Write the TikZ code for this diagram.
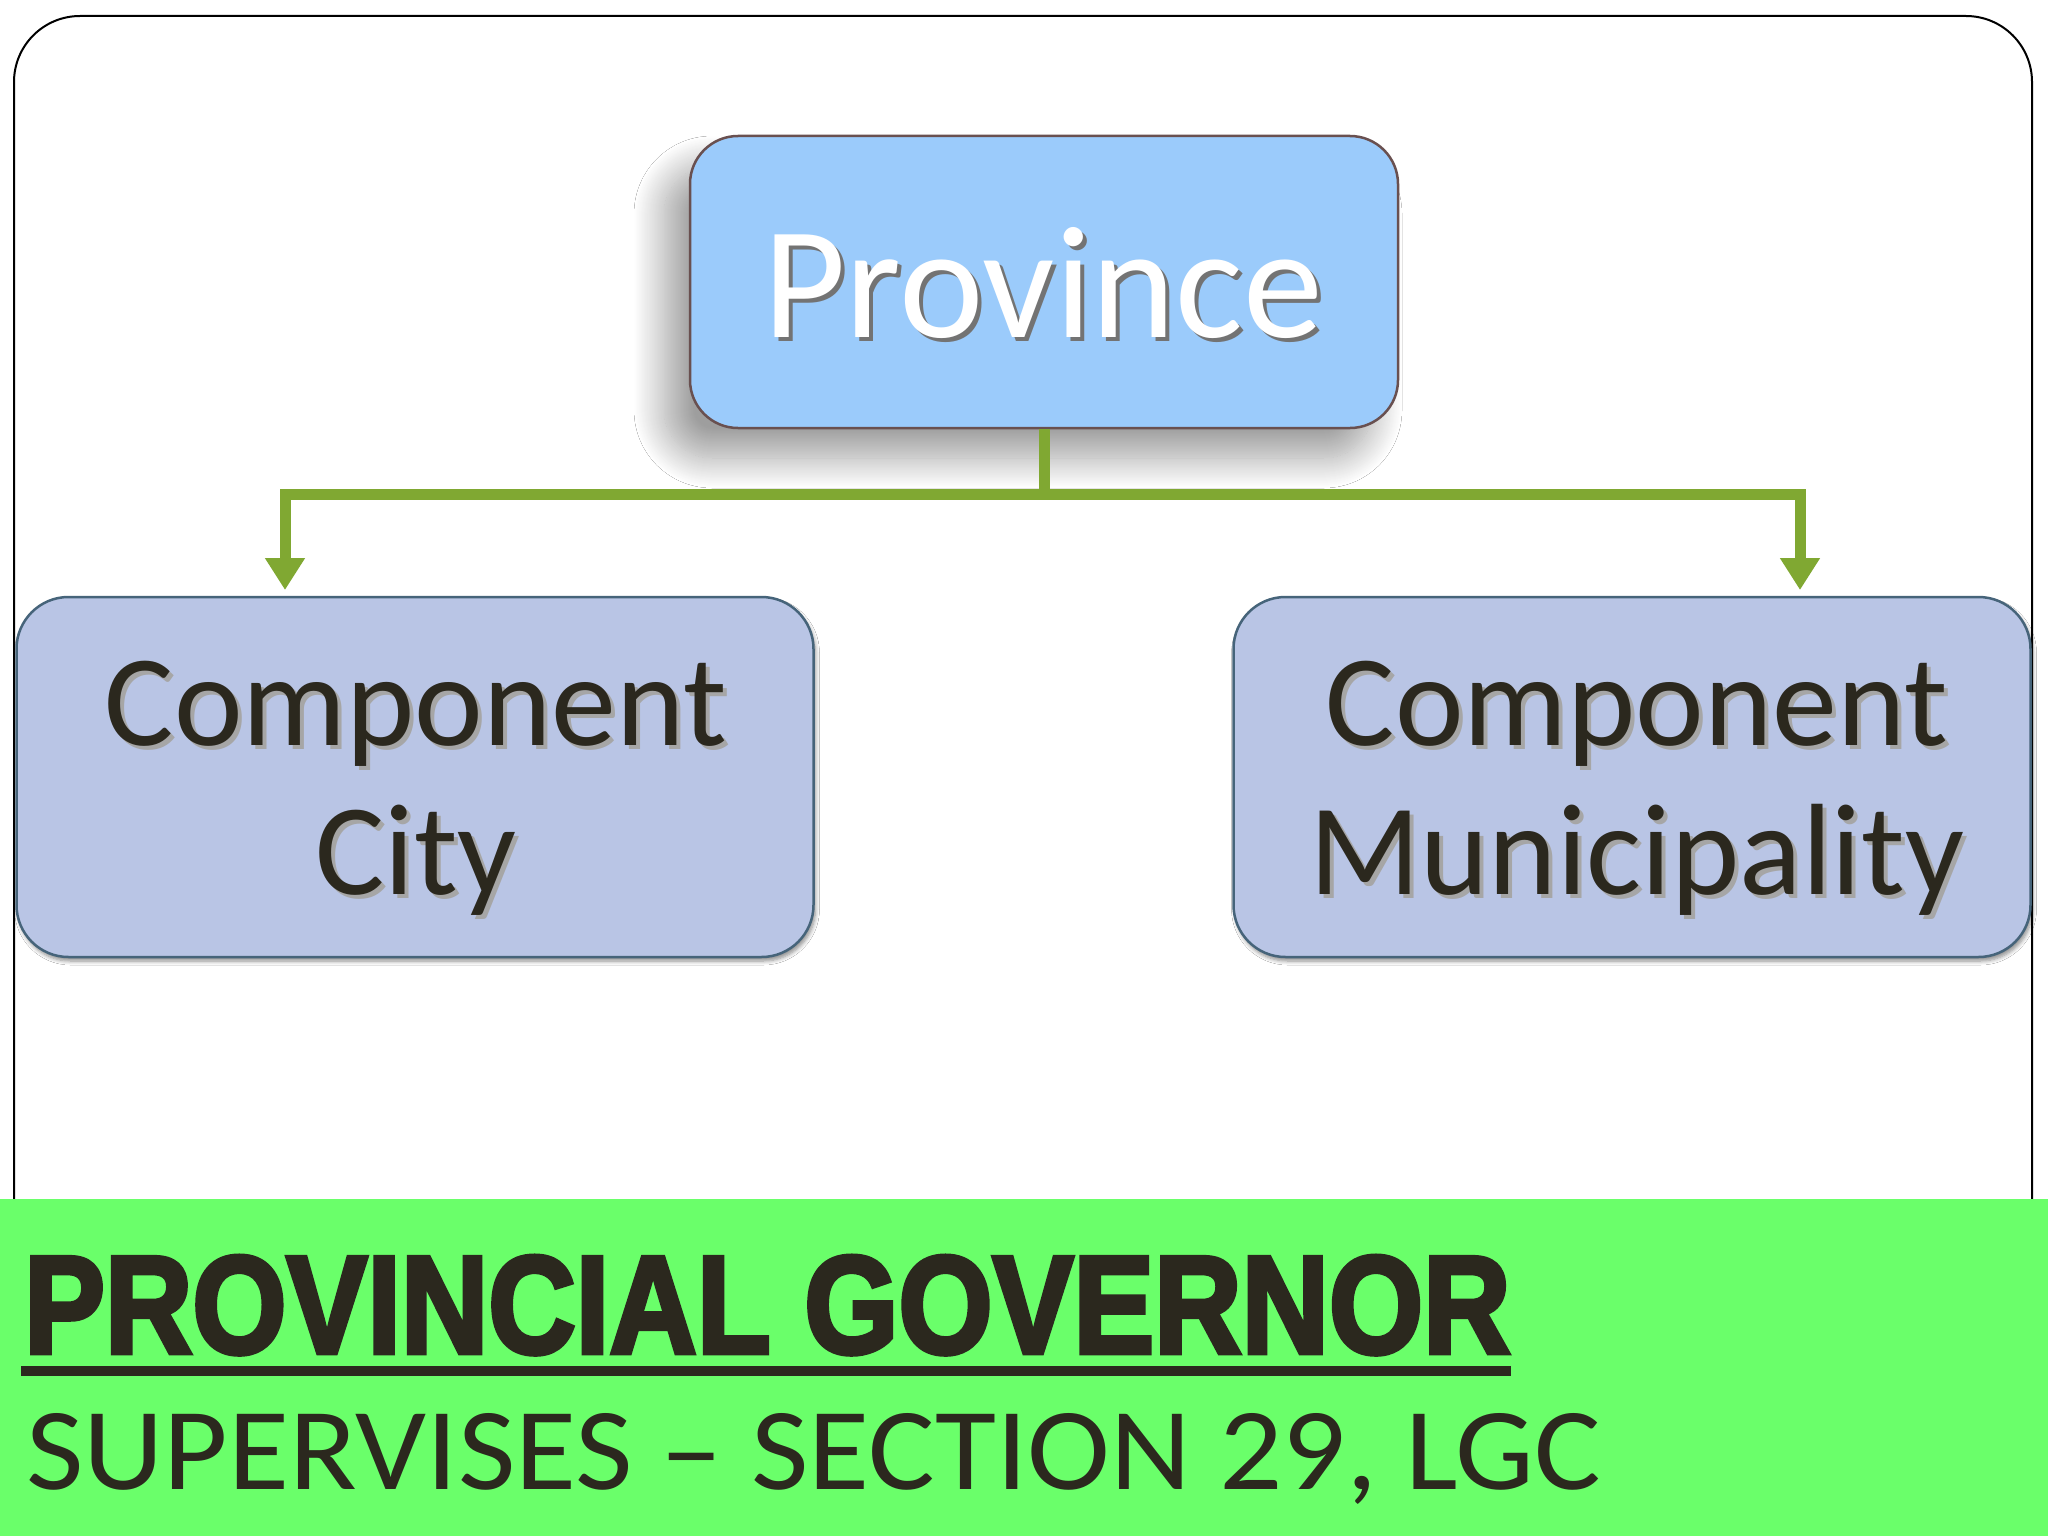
\documentclass[tikz,border=0pt]{standalone}
\usepackage{fontspec}
\setmainfont{Carlito}
\newfontfamily\titlefont[FakeBold=3.5]{Liberation Sans}
\usepackage{graphicx}
\usetikzlibrary{arrows.meta,shadows.blur}
\definecolor{txtdark}{RGB}{43,40,30}
\definecolor{provfill}{RGB}{155,203,251}
\definecolor{provedge}{RGB}{105,80,80}
\definecolor{compfill}{RGB}{185,197,229}
\definecolor{compedge}{RGB}{70,100,122}
\definecolor{conncol}{RGB}{128,168,50}
\definecolor{bandcol}{RGB}{106,255,106}
\newcommand\shtext[3]{\rlap{\kern4pt\raisebox{-4pt}{\textcolor{#1}{#2}}}\textcolor{#3}{#2}}
\tikzset{
  provbox/.style={draw=provedge, line width=2.5pt, fill=provfill, rounded corners=48pt,
    minimum width=708pt, minimum height=292pt, inner sep=0pt,
    blur shadow={shadow xshift=-26pt, shadow yshift=-30pt, shadow blur radius=30pt,
      shadow blur steps=30, shadow opacity=38}},
  compbox/.style={draw=compedge, line width=2.5pt, fill=compfill, rounded corners=52pt,
    minimum width=797pt, minimum height=360pt, inner sep=0pt,
    blur shadow={shadow xshift=2pt, shadow yshift=-4pt, shadow blur radius=4pt,
      shadow blur steps=6, shadow opacity=45}},
  comptext/.style={inner sep=0pt, align=center, font=\fontsize{130}{149}\selectfont},
  conn/.style={draw=conncol, line width=11pt, -{Triangle[width=38pt,length=32pt]}},
}
\begin{document}
\begin{tikzpicture}[x=1pt,y=-1pt]
\useasboundingbox (0,0) rectangle (2048,1536);
\fill[white] (0,0) rectangle (2048,1536);
\draw[line width=2pt, rounded corners=66pt] (14,1205) -- (14,16) -- (2032,16) -- (2032,1205);
\fill[bandcol] (0,1199) rectangle (2048,1536);

\node[provbox] (prov) at (1044,282) {};
\node[inner sep=0pt, anchor=base, font=\fontsize{160}{160}\selectfont] (provt) at (1043,337)
  {\shtext{black!55}{Province}{white}};

\node[compbox] (city) at (415,777) {};
\node[comptext, anchor=north] (cityt) at (416,661)
  {\shtext{black!35}{Component}{txtdark}\\\shtext{black!35}{City}{txtdark}};

\node[compbox] (muni) at (1632,777) {};
\node[comptext, anchor=north] (munit) at (1637,661)
  {\shtext{black!35}{Component}{txtdark}\\\shtext{black!35}{Municipality}{txtdark}};

\coordinate (bus) at (1044,494);
\coordinate (cityin) at (285,590);
\coordinate (muniin) at (1800,590);
\draw[conn] (prov.south) -- (bus) -| (cityin);
\draw[conn] (bus) -| (muniin);

\node[anchor=base west, inner sep=0pt, text=txtdark] (title) at (24,1353)
  {\resizebox{1486pt}{97pt}{\titlefont\bfseries PROVINCIAL GOVERNOR}};
\coordinate (ulstart) at (21,1371);
\coordinate (ulend) at (1511,1371);
\draw[txtdark, line width=10pt] (ulstart) -- (ulend);
\node[anchor=base west, inner sep=0pt, text=txtdark] (sub) at (26,1489)
  {\resizebox{1575pt}{76pt}{SUPERVISES – SECTION 29, LGC}};
\end{tikzpicture}
\end{document}
